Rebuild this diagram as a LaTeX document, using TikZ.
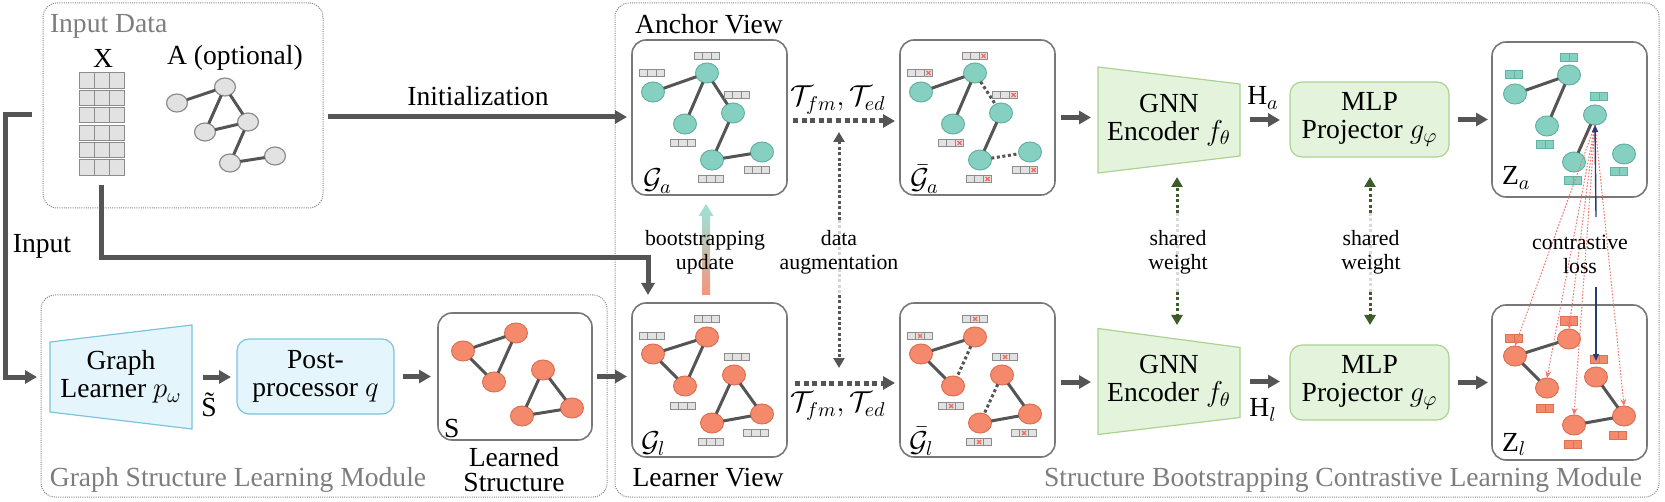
\documentclass[tikz,border=0pt]{standalone}
\usepackage{fontspec}
\setmainfont{Liberation Serif}
\usetikzlibrary{shapes.geometric,arrows.meta,calc}
\pgfdeclarelayer{bg}
\pgfsetlayers{bg,main}
\definecolor{tealF}{RGB}{134,208,193}
\definecolor{tealD}{RGB}{100,178,162}
\definecolor{orgF}{RGB}{245,137,108}
\definecolor{orgD}{RGB}{222,112,84}
\definecolor{gryF}{RGB}{226,226,226}
\definecolor{gryD}{RGB}{140,140,140}
\definecolor{edgeC}{RGB}{85,85,85}
\definecolor{arrC}{RGB}{85,85,85}
\definecolor{boxC}{RGB}{120,120,120}
\definecolor{modC}{RGB}{130,130,130}
\definecolor{labC}{RGB}{125,125,125}
\definecolor{blueF}{RGB}{228,245,251}
\definecolor{blueD}{RGB}{125,195,222}
\definecolor{grnF}{RGB}{228,244,220}
\definecolor{grnD}{RGB}{170,210,145}
\definecolor{swC}{RGB}{62,92,42}
\definecolor{redL}{RGB}{238,120,110}
\definecolor{navyC}{RGB}{40,60,120}
\definecolor{xmC}{RGB}{240,110,100}
\newcommand\fzA{\fontsize{13.8pt}{14pt}\selectfont}
\newcommand\fzB{\fontsize{10.9pt}{12pt}\selectfont}
\tikzset{
  every node/.style={inner sep=0pt, outer sep=0pt, font=\fzA},
  smalllab/.style={align=center, font=\fzB},
  glab/.style={text=labC},
  tnode/.style={ellipse, minimum width=11.5pt, minimum height=10pt, fill=tealF, draw=tealD, line width=0.5pt},
  onode/.style={ellipse, minimum width=11.5pt, minimum height=10pt, fill=orgF, draw=orgD, line width=0.5pt},
  gnode/.style={ellipse, minimum width=10.5pt, minimum height=9pt, fill=gryF, draw=gryD, line width=0.6pt},
  gedge/.style={draw=edgeC, line width=1.5pt},
  gedged/.style={draw=edgeC, line width=1.5pt, dash pattern=on 1.5pt off 1.3pt},
  gbox/.style={draw=boxC, line width=0.8pt, rounded corners=7pt, minimum width=77.5pt, minimum height=77.5pt},
  modbox/.style={draw=modC, line width=0.5pt, dash pattern=on 0.5pt off 0.6pt, rounded corners=7pt},
  bigarrow/.style={draw=arrC, line width=2.5pt, -{Triangle[length=6pt,width=6.5pt]}},
  dasharrow/.style={bigarrow, dash pattern=on 2.5pt off 1.8pt},
  augarrow/.style={draw=arrC, line width=1.5pt, dash pattern=on 1.5pt off 1.2pt, -{Triangle[length=5pt,width=5.5pt]}},
  augfade/.style={draw=arrC!25, line width=1.5pt, dash pattern=on 1.5pt off 1.2pt},
  swarrow/.style={draw=swC, line width=1.5pt, dash pattern=on 1.5pt off 1.2pt, -{Triangle[length=5pt,width=5.5pt]}},
  swfade/.style={draw=arrC!22, line width=1.5pt, dash pattern=on 1.5pt off 1.2pt},
  navyarr/.style={draw=navyC, line width=0.7pt, -{Triangle[length=3.5pt,width=3pt]}},
  redarr/.style={draw=redL, line width=0.5pt, dash pattern=on 0.8pt off 0.8pt, -{Stealth[length=3.5pt,width=3pt]}},
  cellst/.style={fill=gryF, draw=gryD, line width=0.5pt},
  tbar/.style={fill=tealF, draw=tealD, line width=0.5pt},
  obar/.style={fill=orgF, draw=orgD, line width=0.5pt},
  mlpst/.style={fill=grnF, draw=grnD, line width=0.6pt, rounded corners=6pt, minimum width=79.5pt, minimum height=37.5pt, align=center},
  postst/.style={fill=blueF, draw=blueD, line width=0.6pt, rounded corners=6pt, minimum width=78.5pt, minimum height=37.5pt, align=center},
  bar3/.pic={
    \foreach \i in {0,1,2}{\draw[cellst] (-12.75+8.5*\i,-3.75) rectangle ++(8.5,7.5);}
    \ifnum#1>0
      \pgfmathsetmacro\cxx{8.5*#1-17}
      \draw[xmC, line width=0.7pt] (\cxx-2,-2) -- (\cxx+2,2) (\cxx-2,2) -- (\cxx+2,-2);
    \fi
  },
  bar2/.pic={\draw[#1] (-8.5,-4) rectangle (0,4); \draw[#1] (0,-4) rectangle (8.5,4);}
}
\begin{document}
\begin{tikzpicture}[x=0.5pt,y=-0.5pt]
\useasboundingbox (0,0) rectangle (1665,502);

% ---------- module frames ----------
\node[modbox, minimum width=140pt, minimum height=102.5pt] (inbox) at (183,105.5) {};
\node[modbox, minimum width=283pt, minimum height=101pt] (gslbox) at (324,396) {};
\node[modbox, minimum width=522pt, minimum height=247pt] (sbbox) at (1137,250) {};

\node[glab, anchor=west] (inlab) at (50,26) {Input Data};
\node[glab] (gsllab) at (238,480) {Graph Structure Learning Module};
\node[glab] (sblab) at (1343,480) {Structure Bootstrapping Contrastive Learning Module};

% ---------- input data ----------
\node (xlab) at (103,58) {X};
\node (alab) at (235,58) {A (optional)};
\node[minimum width=22.5pt, minimum height=52pt] (xmat) at (101.5,125) {};
\foreach \r in {0,...,5}{\foreach \c in {0,1,2}{\draw[cellst] (79+15*\c,73+17.4*\r) rectangle ++(15,15.2);}}
\foreach \n/\x/\y in {1/177/103,2/225/87,3/205/132,4/248/122,5/230/163,6/275/156}{\node[gnode] (g\n) at (\x,\y) {};}
\draw[gedge] (g1)--(g2) (g2)--(g3) (g2)--(g4) (g3)--(g4) (g4)--(g5) (g5)--(g6);

% ---------- boxes ----------
\node[gbox] (ga) at (709.5,117.5) {};
\node[gbox] (gab) at (977.5,117.5) {};
\node[gbox, minimum height=77pt] (gl) at (709.5,380) {};
\node[gbox, minimum height=77pt] (glb) at (977.5,380) {};
\node[gbox] (za) at (1569.5,119.5) {};
\node[gbox] (zl) at (1569.5,382.5) {};
\node[gbox, minimum width=77pt, minimum height=63.5pt] (sbox) at (515,376.5) {};

\node[align=center, minimum width=71pt, minimum height=53pt] (gnna) at (1169,120) {GNN\\Encoder $f_\theta$};
\node[align=center, minimum width=71pt, minimum height=53pt] (gnnl) at (1169,381.5) {GNN\\Encoder $f_\theta$};
\node[align=center, minimum width=71pt, minimum height=52pt] (glrn) at (121,377) {Graph\\Learner $p_\omega$};
\begin{pgfonlayer}{bg}
  \filldraw[fill=grnF, draw=grnD, line width=0.6pt] (gnna.north west) -- ([yshift=-8.5pt]gnna.north east) -- ([yshift=8.5pt]gnna.south east) -- (gnna.south west) -- cycle;
  \filldraw[fill=grnF, draw=grnD, line width=0.6pt] (gnnl.north west) -- ([yshift=-9.5pt]gnnl.north east) -- ([yshift=8.5pt]gnnl.south east) -- (gnnl.south west) -- cycle;
  \filldraw[fill=blueF, draw=blueD, line width=0.6pt] (glrn.north east) -- (glrn.south east) -- ([yshift=8.5pt]glrn.south west) -- ([yshift=-8.5pt]glrn.north west) -- cycle;
\end{pgfonlayer}
\node[mlpst] (mlpa) at (1369.5,119.5) {MLP\\Projector $g_\varphi$};
\node[mlpst] (mlpl) at (1369.5,382.5) {MLP\\Projector $g_\varphi$};
\node[postst] (post) at (315.5,376.5) {Post-\\processor $q$};

% ---------- S graph ----------
\foreach \n/\x/\y in {1/463/351,2/516/333,3/494/382,4/543/370,5/522/416,6/572/408}{\node[onode] (s\n) at (\x,\y) {};}
\draw[gedge] (s1)--(s2) (s1)--(s3) (s2)--(s3) (s4)--(s5) (s4)--(s6) (s5)--(s6);

% ---------- anchor graphs ----------
\foreach \n/\x/\y in {1/653/92,2/707/73,3/685/124,4/733/113,5/712/160,6/762/152}{
  \node[tnode] (a\n) at (\x,\y) {};
  \node[tnode] (b\n) at (\x+268,\y) {};
  \node[tnode] (za\n) at (\x+862,\y+2) {};
}
\draw[gedge] (a1)--(a2) (a2)--(a3) (a2)--(a4) (a4)--(a5) (a5)--(a6);
\draw[gedge] (b1)--(b2) (b2)--(b3) (b4)--(b5);
\draw[gedged] (b2)--(b4) (b5)--(b6);
\draw[gedge] (za1)--(za2) (za2)--(za3) (za4)--(za5);
\foreach \x/\y in {652/73,707/56,737/95,683/143,711/179,757/170}{
  \pic at (\x,\y) {bar3=0};
  \pic at (\x+268,\y) {bar3=3};
  \pic at (\x+862,\y+2) {bar2=tbar};
}

% ---------- learner graphs ----------
\foreach \n/\x/\y in {1/653/354,2/707/337,3/685/386,4/734/375,5/712/423,6/762/414}{
  \node[onode] (l\n) at (\x,\y) {};
  \node[onode] (c\n) at (\x+268,\y) {};
  \node[onode] (zl\n) at (\x+862,\y+2) {};
}
\draw[gedge] (l1)--(l2) (l1)--(l3) (l2)--(l3) (l4)--(l5) (l4)--(l6) (l5)--(l6);
\draw[gedge] (c1)--(c2) (c1)--(c3) (c4)--(c6) (c5)--(c6);
\draw[gedged] (c2)--(c3) (c4)--(c5);
\draw[gedge] (zl1)--(zl2) (zl1)--(zl3) (zl4)--(zl6) (zl5)--(zl6);
\foreach \x/\y in {652/336,707/319,737/357,683/406,711/442,756/433}{
  \pic at (\x,\y) {bar3=0};
  \pic at (\x+268,\y) {bar3=2};
  \pic at (\x+862,\y+2) {bar2=obar};
}

% ---------- box labels ----------
\node[anchor=base west] (galab) at (643,189) {$\mathcal{G}_a$};
\node[anchor=base west] (gablab) at (910,189) {$\bar{\mathcal{G}}_a$};
\node[anchor=base west] (gllab) at (641,451) {$\mathcal{G}_l$};
\node[anchor=base west] (glblab) at (909,451) {$\bar{\mathcal{G}}_l$};
\node[anchor=base west] (zalab) at (1502,185) {Z$_a$};
\node[anchor=base west] (zllab) at (1502,451) {Z$_l$};
\node[anchor=base west] (slab) at (444,437) {S};
\node (anchlab) at (709,24) {Anchor View};
\node (learnlab) at (708,478) {Learner View};
\node[align=center, font=\fontsize{13.8pt}{12.5pt}\selectfont] (lslab) at (514,470) {Learned\\Structure};

% ---------- main arrows ----------
\coordinate (initS) at (328,117);
\draw[bigarrow, shorten >=2.5pt] (initS) -- (initS -| ga.west);
\node (initlab) at (478,96) {Initialization};

\coordinate (inS) at (32,115);
\draw[bigarrow, shorten >=6.5pt] (inS) -- (5,115) -- (5,377) -- (glrn.west);
\node (inputlab) at (42,246) {Input};

\draw[bigarrow, shorten <=4pt, shorten >=4pt] (xmat.south) -- (xmat.south |- 0,258) -- (648,258) -- (648,0 |- gl.north);

\draw[bigarrow, shorten <=5.5pt, shorten >=3pt] (glrn.east) -- (glrn.east -| post.west);
\node (stlab) at (209,405) {\~{S}};
\draw[bigarrow, shorten <=4.5pt, shorten >=3.5pt] (post.east) -- (post.east -| sbox.west);
\draw[bigarrow, shorten <=2.5pt, shorten >=2.5pt] (sbox.east) -- (sbox.east -| gl.west);

\draw[dasharrow, shorten <=3pt, shorten >=2.5pt] ([yshift=-1.75pt]ga.east) -- ([yshift=-1.75pt]gab.west);
\draw[dasharrow, shorten <=4pt, shorten >=2.5pt] ([yshift=-1.5pt]gl.east) -- ([yshift=-1.5pt]glb.west);
\node (tfa) at (838,100) {$\mathcal{T}_{fm},\mathcal{T}_{ed}$};
\node (tfl) at (838,406) {$\mathcal{T}_{fm},\mathcal{T}_{ed}$};

\draw[bigarrow, shorten <=3pt, shorten >=3.5pt] (gab.east) -- (gab.east -| gnna.west);
\draw[bigarrow, shorten <=3pt, shorten >=3.5pt] ([yshift=-1pt]glb.east) -- ([yshift=-1pt]glb.east -| gnnl.west);
\draw[bigarrow, shorten <=5pt, shorten >=5pt] (gnna.east) -- (gnna.east -| mlpa.west);
\draw[bigarrow, shorten <=5pt, shorten >=5pt] (gnnl.east) -- (gnnl.east -| mlpl.west);
\node (halab) at (1263,98) {H$_a$};
\node (hllab) at (1263,410) {H$_l$};
\draw[bigarrow, shorten <=4.5pt, shorten >=2pt] (mlpa.east) -- (mlpa.east -| za.west);
\draw[bigarrow, shorten <=4.5pt, shorten >=2pt] (mlpl.east) -- (mlpl.east -| zl.west);

% ---------- bootstrapping update ----------
\shade[top color=tealF!75!white, middle color=white, bottom color=orgF!90] (702,216) rectangle (710,295);
\fill[tealF!75!white] (698.5,216) -- (713.5,216) -- (706,204) -- cycle;
\node[smalllab] (bslab) at (705,252) {bootstrapping\\update};

% ---------- data augmentation ----------
\coordinate (daT) at (839,132);
\coordinate (daA) at (839,220);
\coordinate (daB) at (839,295);
\coordinate (daD) at (839,368);
\draw[augarrow] (daA) -- (daT);
\draw[augfade] (daA) -- (daB);
\draw[augarrow] (daB) -- (daD);
\node[smalllab] (dalab) at (839,252) {data\\augmentation};

% ---------- shared weights ----------
\foreach \nm/\xx in {ga/1177,gb/1370}{
  \coordinate (sw\nm T) at (\xx,177);
  \coordinate (sw\nm A) at (\xx,213);
  \coordinate (sw\nm B) at (\xx,292);
  \coordinate (sw\nm D) at (\xx,325);
  \draw[swarrow] (sw\nm A) -- (sw\nm T);
  \draw[swfade] (sw\nm A) -- (sw\nm B);
  \draw[swarrow] (sw\nm B) -- (sw\nm D);
}
\node[smalllab] (sw1lab) at (1178,252) {shared\\weight};
\node[smalllab] (sw2lab) at (1371,252) {shared\\weight};

% ---------- contrastive loss ----------
\foreach \t in {zl1,zl2,zl3,zl5,zl6}{\draw[redarr] (za4.south) -- (\t.north);}
\coordinate (clA) at (1596,217);
\coordinate (clB) at (1596,287);
\draw[navyarr] (clA) -- (za4.south);
\draw[navyarr] (clB) -- ([yshift=3pt]zl4.north);
\node[smalllab] (cllab) at (1580,254) {contrastive\\loss};

\end{tikzpicture}
\end{document}
